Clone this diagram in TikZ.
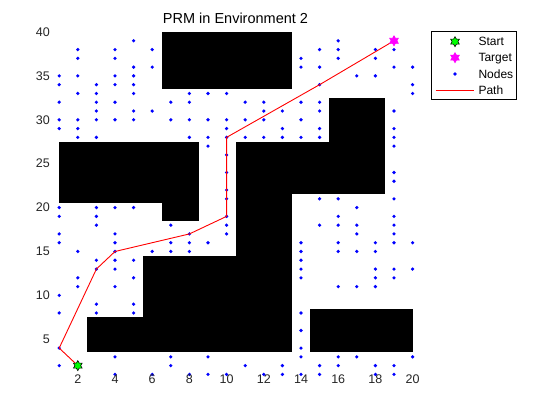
\documentclass[tikz,border=0pt]{standalone}
\usepackage{fontspec}
\setmainfont{Liberation Sans}
\usetikzlibrary{shapes.geometric}
\definecolor{axtext}{rgb}{0.15,0.15,0.15}
\definecolor{mblue}{rgb}{0,0,1}
\definecolor{mred}{rgb}{1,0,0}
\definecolor{mgreen}{rgb}{0,1,0}
\definecolor{mmagenta}{rgb}{1,0,1}
\begin{document}
\begin{tikzpicture}[
  obstacle/.style={fill=black, draw=none},
  nodedot/.style={fill=mblue},
  pathline/.style={draw=mred, line width=0.9pt, line join=round},
  hexbase/.style={star, star points=6, star point ratio=1.73, minimum size=10pt, inner sep=0pt, line width=0.6pt},
  hexstart/.style={hexbase, fill=mgreen, draw=black},
  hextarget/.style={hexbase, fill=mmagenta, draw=mmagenta},
  ticklab/.style={font=\fontsize{12.5}{12.5}\selectfont, text=axtext, inner sep=0pt},
  leglab/.style={font=\fontsize{12}{12}\selectfont, text=black, inner sep=0pt, anchor=base west},
  titlelab/.style={font=\fontsize{14.5}{14.5}\selectfont, text=black, inner sep=0pt, anchor=base},
]
\useasboundingbox (0,0) rectangle (560pt,420pt);
\fill[white] (0,0) rectangle (560pt,420pt);
\begin{scope}[shift={(40.6pt,36.8pt)}, x=18.6pt, y=8.78pt]
  % obstacles
  \fill[obstacle] (6.5,33.5) rectangle (13.5,40);
  \fill[obstacle] (1,20.5) rectangle (8.5,27.5);
  \fill[obstacle] (6.5,18.5) rectangle (8.5,20.5);
  \fill[obstacle] (10.5,21.5) rectangle (18.5,27.5);
  \fill[obstacle] (15.5,27.5) rectangle (18.5,32.5);
  \fill[obstacle] (10.5,3.5) rectangle (13.5,21.5);
  \fill[obstacle] (5.5,3.5) rectangle (10.5,14.5);
  \fill[obstacle] (2.5,3.5) rectangle (5.5,7.5);
  \fill[obstacle] (14.5,3.5) rectangle (20,8.5);
  % sample nodes
  \foreach \yy/\xs in {
    39/{5,16},
    38/{2,4,6,15,16,18,19},
    37/{2,4,14,16,18},
    36/{5,6,14,15,19,20},
    35/{1,2,4,5,17,18},
    34/{1,3,4,5,15,20},
    33/{2,3,5,8,9,10,20},
    32/{1,3,4,7,8,11,12,14,15},
    31/{3,5,6,12,13,15,19},
    30/{1,2,3,4,5,7,8,9,10,11,12,14},
    29/{1,2,10,13,15,19},
    28/{2,3,8,9,10,11,12,13,14,15,19},
    27/{9,19},
    26/{10},
    24/{10,19},
    23/{19},
    22/{10},
    21/{10,15,16,19},
    20/{1,3,4,5,17},
    19/{1,3,10,16,19},
    18/{3,7,10,15,16,17,19},
    17/{1,4,8,10,17,19},
    16/{1,4,7,8,9,14,16,18,19,20},
    15/{2,4,6,7,8,14,16,17,18},
    14/{3,4,5,14},
    13/{3,4,14,18,19,20},
    12/{2,5,14,18,19},
    11/{2,4,16,17,18},
    10/{1},
    9/{3,5},
    8/{1,3,5,14},
    6/{14},
    4/{1,14},
    3/{4,7,9,14,16,17,20},
    2/{1,7,11,13,15,16,18,19},
    1/{4,6,8,9,10,12,13,14,15,18,19}} {
    \foreach \xx in \xs {\fill[nodedot] (\xx,\yy) circle (1.8pt);}
  }
  % path vertices
  \coordinate (p1) at (2,2);
  \coordinate (p2) at (1,4);
  \coordinate (p3) at (3,13);
  \coordinate (p4) at (4,15);
  \coordinate (p5) at (8,17);
  \coordinate (p6) at (10,19);
  \coordinate (p7) at (10,21);
  \coordinate (p8) at (10,22);
  \coordinate (p9) at (10,24);
  \coordinate (p10) at (10,26);
  \coordinate (p11) at (10,28);
  \coordinate (p12) at (15,34);
  \coordinate (p13) at (19,39);
  \draw[pathline] (p1) -- (p2) -- (p3) -- (p4) -- (p5) -- (p6) -- (p7) -- (p8) -- (p9) -- (p10) -- (p11) -- (p12) -- (p13);
  \node[hexstart] (start) at (p1) {};
  \node[hextarget] (target) at (p13) {};
  % tick labels
  \foreach \t in {2,4,...,20} {\node[ticklab, anchor=base] (xt\t) at (\t,1) [yshift=-9.5pt] {\t};}
\end{scope}
% y tick labels (px positions)
\foreach \t in {5,10,...,40} {
  \pgfmathsetmacro{\yy}{36.8+8.78*\t}
  \node[ticklab, anchor=east] (yt\t) at (50pt,\yy pt) {\t};
}
% title
\node[titlelab] (title) at (235.5pt,396.7pt) {PRM in Environment 2};
% legend
\draw[black, line width=0.6pt] (431.7pt,320.7pt) rectangle (516.7pt,388.3pt);
\node[hexstart] (legstart) at (455pt,378.3pt) {};
\node[hextarget] (legtarget) at (455pt,362.3pt) {};
\fill[nodedot] (455pt,346pt) circle (1.8pt);
\coordinate (legpa) at (435.5pt,330pt);
\coordinate (legpb) at (474.3pt,330pt);
\draw[pathline] (legpa) -- (legpb);
\node[leglab] (lstart) at (478.3pt,374pt) {Start};
\node[leglab] (ltarget) at (478.3pt,358pt) {Target};
\node[leglab] (lnodes) at (478.3pt,341.7pt) {Nodes};
\node[leglab] (lpath) at (478.3pt,325.7pt) {Path};
\end{tikzpicture}
\end{document}
